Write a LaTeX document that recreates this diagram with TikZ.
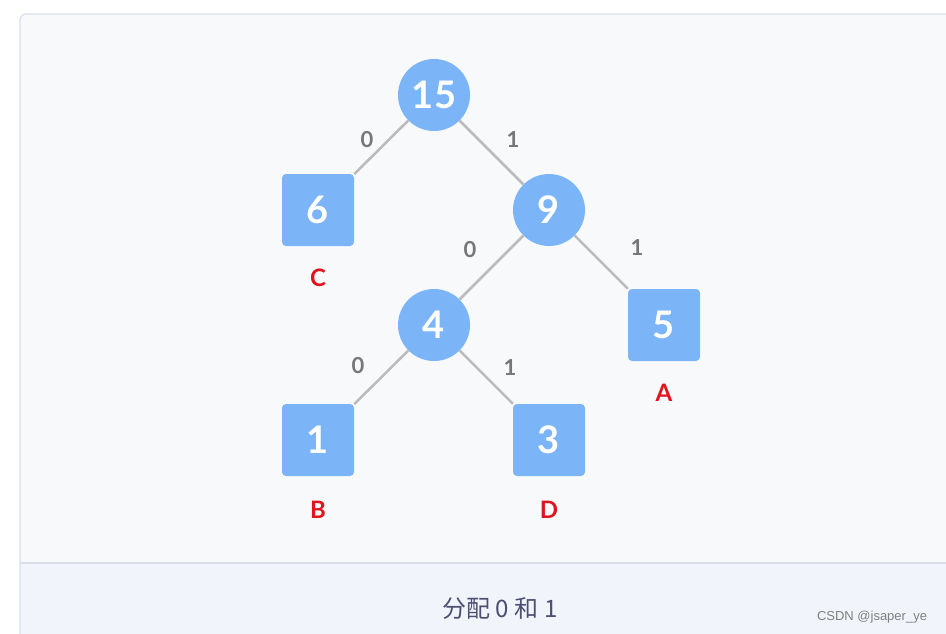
\documentclass[tikz,border=0pt]{standalone}
\usepackage{fontspec}
\setmainfont{Lato}
\newfontfamily\cjk{Noto Sans CJK SC}
\newfontfamily\lib{Liberation Sans}
\definecolor{nodeblue}{HTML}{7BB5F8}
\definecolor{panel}{HTML}{F8F9FB}
\definecolor{foot}{HTML}{F1F4FB}
\definecolor{bord}{HTML}{D9DEE8}
\definecolor{edgec}{HTML}{BBBBBB}
\definecolor{lblc}{HTML}{777777}
\definecolor{capc}{HTML}{4C4E72}
\definecolor{redc}{HTML}{E0141E}
\tikzset{
  x=1pt,y=-1pt,
  cnode/.style={circle,fill=nodeblue,minimum size=72pt,inner sep=0pt,text=white,font=\fontsize{38}{40}\selectfont\bfseries},
  snode/.style={rectangle,rounded corners=4pt,fill=nodeblue,minimum size=72pt,inner sep=0pt,text=white,font=\fontsize{38}{40}\selectfont\bfseries},
  elbl/.style={text=lblc,font=\fontsize{22}{24}\selectfont\bfseries},
  rlbl/.style={text=redc,font=\fontsize{24}{26}\selectfont\bfseries},
  edge/.style={draw=edgec,line width=2.5pt}
}
\begin{document}
\begin{tikzpicture}
\useasboundingbox (0,0) rectangle (946,634);
\fill[white] (0,0) rectangle (946,634);
\draw[bord,fill=panel,line width=1.2pt,rounded corners=6pt] (20,14) -- (960,14) -- (960,650) -- (20,650) -- cycle;
\fill[foot] (20.6,563) rectangle (946,634);
\draw[bord,line width=1.5pt] (20.6,563) -- (946,563);
\node[cnode] (n15) at (434,95) {15};
\node[cnode] (n9) at (549,210) {9};
\node[cnode] (n4) at (434,325) {4};
\node[snode] (n6) at (318,210) {6};
\node[snode] (n5) at (664,325) {5};
\node[snode] (n1) at (318,440) {1};
\node[snode] (n3) at (549,440) {3};
\begin{scope}[on background layer/.try]
\end{scope}
\draw[edge] (n15) -- (n6);
\draw[edge] (n15) -- (n9);
\draw[edge] (n9) -- (n4);
\draw[edge] (n9) -- (n5);
\draw[edge] (n4) -- (n1);
\draw[edge] (n4) -- (n3);
\node[elbl] (l1) at (367,140) {0};
\node[elbl] (l2) at (513,140) {1};
\node[elbl] (l3) at (470,250) {0};
\node[elbl] (l4) at (637,248) {1};
\node[elbl] (l5) at (358,366) {0};
\node[elbl] (l6) at (510,368) {1};
\node[rlbl] (c) at (318,278) {C};
\node[rlbl] (a) at (664,393) {A};
\node[rlbl] (b) at (318,510) {B};
\node[rlbl] (d) at (549,510) {D};
\node[text=capc,font=\cjk\fontsize{24}{26}\selectfont] (cap) at (500,609) {分配 0 和 1};
\node[text=gray,font=\lib\fontsize{13}{15}\selectfont] (wm) at (872,617) {CSDN @jsaper\_ye};
\end{tikzpicture}
\end{document}
